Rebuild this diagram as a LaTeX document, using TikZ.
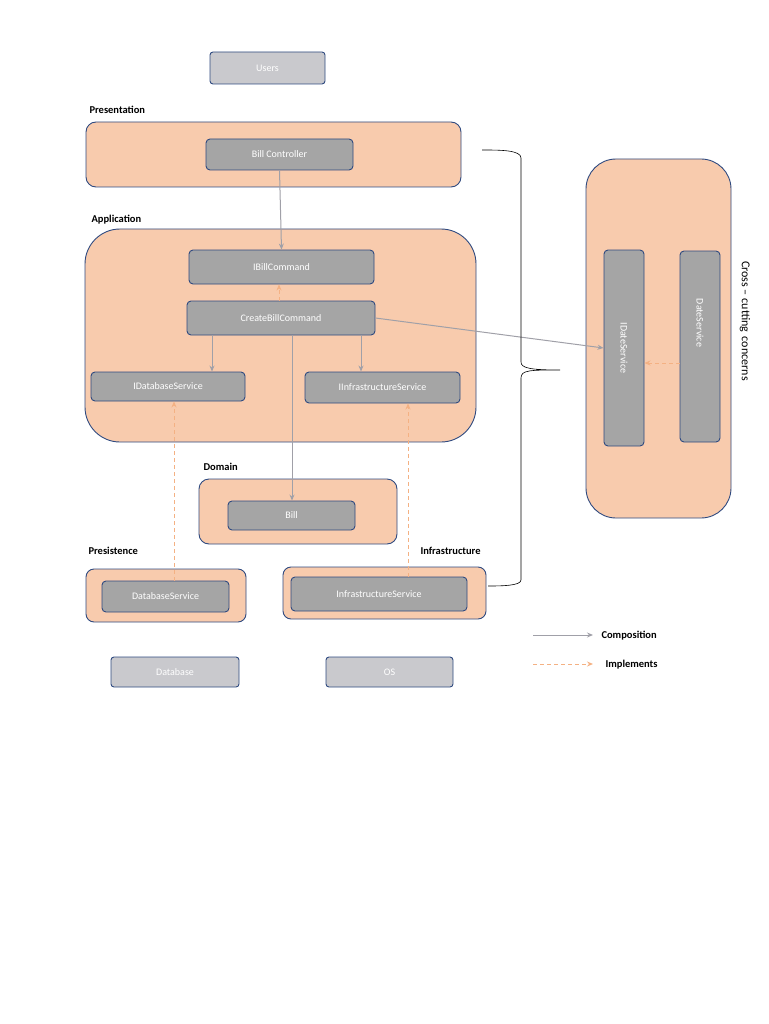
\documentclass[tikz,border=0pt]{standalone}
\usepackage{fontspec}
\setmainfont{Carlito}
\usetikzlibrary{arrows.meta}
\definecolor{peach}{HTML}{F8CBAD}
\definecolor{dgray}{HTML}{A5A5A5}
\definecolor{lgray}{HTML}{C9C9CD}
\definecolor{bord}{HTML}{2F4A80}
\definecolor{compc}{HTML}{A0A0A8}
\definecolor{impl}{HTML}{F4B183}
\begin{document}
\begin{tikzpicture}[x=1pt,y=-1pt,
 layer/.style={draw=bord,fill=peach,line width=0.9pt},
 comp/.style={draw=bord,fill=dgray,line width=0.9pt,rounded corners=4pt,text=white,font=\fontsize{10}{12}\selectfont},
 ext/.style={draw=bord,fill=lgray,line width=0.9pt,rounded corners=3pt,text=white,font=\fontsize{10}{12}\selectfont},
 lbl/.style={font=\bfseries\fontsize{10.5}{12}\selectfont,anchor=west},
 ca/.style={draw=compc,line width=1pt,-{Stealth[length=6pt,width=5pt]}},
 ia/.style={draw=impl,line width=1pt,dash pattern=on 4pt off 3pt,-{Stealth[length=6pt,width=5pt]}}]
\useasboundingbox (0,0) rectangle (768,1024);
% layers
\draw[layer,rounded corners=10pt] (86,122) rectangle (461,187);
\draw[layer,rounded corners=35pt] (85,229) rectangle (476,442);
\draw[layer,rounded corners=10pt] (199,479) rectangle (397,544);
\draw[layer,rounded corners=8pt] (86,569) rectangle (246,622);
\draw[layer,rounded corners=8pt] (283,567) rectangle (486,619);
\draw[layer,rounded corners=30pt] (586,159) rectangle (731,518);
\node[lbl] (lpres) at (86,110) {Presentation};
\node[lbl] (lapp) at (88,220) {Application};
\node[lbl] (ldom) at (200,467) {Domain};
\node[lbl] (lper) at (85,551) {Presistence};
\node[lbl] (linf) at (417,551) {Infrastructure};
\node[font=\fontsize{12}{14}\selectfont,rotate=-90] (lcc) at (745,321) {Cross – cutting\, concerns};
% components
\node[ext,minimum width=115pt,minimum height=32pt] (users) at (267.5,68) {Users};
\node[comp,minimum width=147pt,minimum height=31pt] (bc) at (279.5,154.5) {Bill Controller};
\node[comp,minimum width=185pt,minimum height=34pt] (ibc) at (281.5,267) {IBillCommand};
\node[comp,minimum width=188pt,minimum height=34pt] (cbc) at (281,318) {CreateBillCommand};
\node[comp,minimum width=154pt,minimum height=29pt] (ids) at (168,386.5) {IDatabaseService};
\node[comp,minimum width=155pt,minimum height=31pt] (iis) at (382.5,387.5) {IInfrastructureService};
\node[comp,minimum width=127pt,minimum height=29pt] (bill) at (291.5,515.5) {Bill};
\node[comp,minimum width=127pt,minimum height=31pt] (ds) at (165.5,596.5) {DatabaseService};
\node[comp,minimum width=176pt,minimum height=34pt] (is) at (379,594) {InfrastructureService};
\node[ext,minimum width=128pt,minimum height=30pt] (db) at (175,672) {Database};
\node[ext,minimum width=127pt,minimum height=30pt] (os) at (389.5,672) {OS};
\node[comp,minimum width=40pt,minimum height=196pt] (ids2) at (624,348) {};
\node[rotate=-90,text=white,font=\fontsize{10}{12}\selectfont] (ids2t) at (ids2) {IDateService};
\node[comp,minimum width=40pt,minimum height=191pt] (dsv) at (700,346.5) {};
\node[rotate=-90,text=white,font=\fontsize{10}{12}\selectfont] (dsvt) at (700,323) {DateService};
% arrows
\draw[ca] (bc.south) -- (ibc.north);
\draw[ia] (cbc.north -| 279,0) -- (ibc.south -| 279,0);
\draw[ca] (cbc.south -| 212,0) -- (ids.north -| 212,0);
\draw[ca] (cbc.south -| 361,0) -- (iis.north -| 361,0);
\draw[ca] (cbc.south -| 292,0) -- (bill.north -| 292,0);
\draw[ca] (cbc.east) -- (ids2.west);
\draw[ia] (ds.north -| 174,0) -- (ids.south -| 174,0);
\draw[ia] (is.north -| 408,0) -- (iis.south -| 408,0);
\draw[ia] (dsv.west |- 0,363) -- (ids2.east |- 0,363);
% brace
\draw[black,line width=0.6pt] (482,150) .. controls (500,150) and (521,150) .. (521,158) -- (521,362) .. controls (521,368) and (530,370) .. (560,370)
 (521,378) .. controls (521,370) and (530,370) .. (560,370)
 (521,378) -- (521,580) .. controls (521,586) and (500,586) .. (488,586);
% legend
\coordinate (c1) at (533,635); \coordinate (c2) at (593,635);
\coordinate (i1) at (533,664); \coordinate (i2) at (593,664);
\draw[ca] (c1) -- (c2);
\draw[ia] (i1) -- (i2);
\node[lbl] (lc) at (598,636) {Composition};
\node[lbl] (li) at (602,665) {Implements};
\end{tikzpicture}
\end{document}
